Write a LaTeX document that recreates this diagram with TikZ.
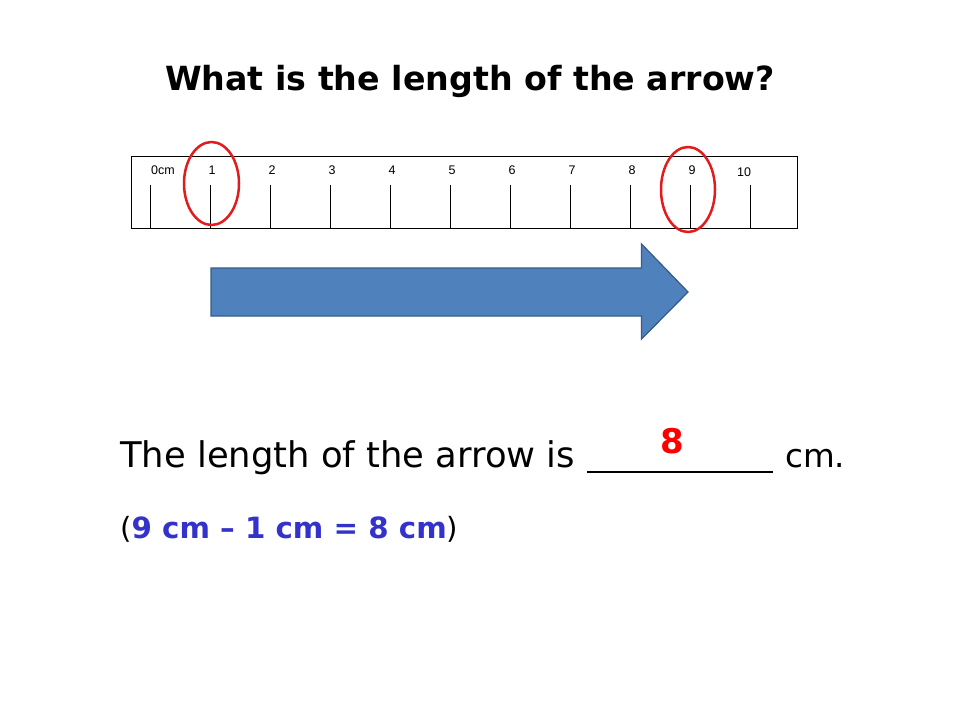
\documentclass[tikz,border=0pt]{standalone}
\usepackage{fontspec}
\usetikzlibrary{shapes.geometric}
\setmainfont{DejaVu Sans}
\newfontfamily\rulerfont{Liberation Sans}
\definecolor{arrowfill}{HTML}{4F81BD}
\definecolor{arrowline}{HTML}{385D8A}
\definecolor{calcblue}{HTML}{3333CC}
\definecolor{markred}{HTML}{E41B1B}
\begin{document}
\begin{tikzpicture}[x=1pt,y=-1pt,
  tick/.style={line width=0.9pt,black},
  tlabel/.style={font=\rulerfont\fontsize{12.5}{12.5}\selectfont,inner sep=0pt},
  circ/.style={draw=markred,line width=2.5pt},
  txt/.style={inner sep=0pt}]
\useasboundingbox[fill=white] (0,0) rectangle (960,720);
% title
\node[txt,anchor=base] (title) at (470,90) {\resizebox{610pt}{!}{\bfseries\fontsize{30}{30}\selectfont What is the length of the arrow?}};
% ruler
\node[draw=black,line width=0.9pt,minimum width=666pt,minimum height=72pt,inner sep=0pt] (ruler) at (464,192) {};
\foreach \i in {0,...,10}{
  \coordinate (t\i) at ({150+60*\i},185);
  \draw[tick] (t\i) -- ({150+60*\i},228);
}
\node[tlabel] (l0) at (163,170) {0cm};
\foreach \i in {1,...,9}{
  \node[tlabel] (l\i) at ({152+60*\i},170) {\i};
}
\node[tlabel] (l10) at (744,172) {10};
% circles
\node[circ,ellipse,minimum width=55pt,minimum height=83pt,inner sep=0pt] (c1) at (211.5,183.5) {};
\node[circ,ellipse,minimum width=54pt,minimum height=85pt,inner sep=0pt] (c9) at (688,189.5) {};
% arrow
\draw[fill=arrowfill,draw=arrowline,line width=1.3pt,line join=miter]
  (211,268) -- (641.5,268) -- (641.5,244) -- (688,292) -- (641.5,339) -- (641.5,316) -- (211,316) -- cycle;
% sentence
\node[txt,anchor=base west] (s1) at (120,467) {\resizebox{455pt}{!}{\fontsize{36}{36}\selectfont The length of the arrow is}};
\coordinate (b1) at (587,472);
\coordinate (b2) at (773,472);
\draw[line width=2.2pt] (b1) -- (b2);
\node[txt,anchor=base west] (s2) at (785,467) {\resizebox{60pt}{!}{\fontsize{36}{36}\selectfont cm.}};
\node[txt,anchor=base,text=red,font=\bfseries\fontsize{34}{34}\selectfont] (ans) at (672.5,453) {8};
% calculation
\node[txt,anchor=base west] (calc) at (120,538) {\resizebox{338pt}{!}{\fontsize{28}{28}\selectfont (\textcolor{calcblue}{\bfseries 9 cm – 1 cm = 8 cm})}};
\end{tikzpicture}
\end{document}
